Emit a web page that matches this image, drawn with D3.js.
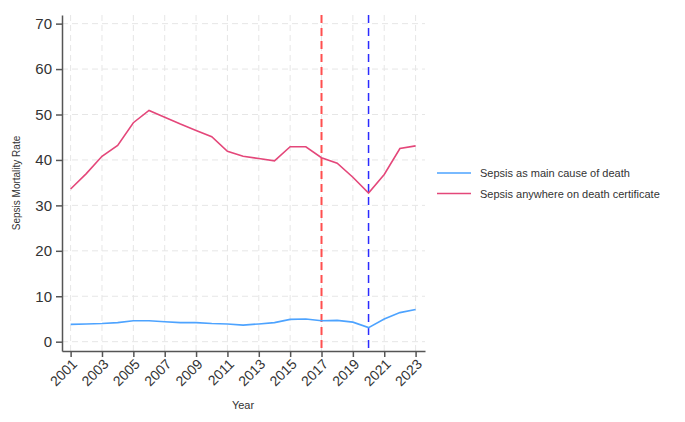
<!DOCTYPE html>
<html>
<head>
<meta charset="utf-8">
<style>
  body { margin: 0; background: #fff; }
  .axis path, .axis line { fill: none; stroke: #555; stroke-width: 1.5; }
  .axis text { font-family: "Liberation Sans", Arial, sans-serif; font-size: 15px; fill: #333; }
  .grid line { stroke: #e6e6e6; stroke-dasharray: 6,4; }
  .lbl { font-family: "Liberation Sans", Arial, sans-serif; fill: #333; }
</style>
</head>
<body>
<script src="https://d3js.org/d3.v7.min.js"></script>
<script>
var years = d3.range(2001, 2024);
var mainCause = [3.8, 3.9, 4.0, 4.2, 4.6, 4.6, 4.4, 4.2, 4.2, 4.0, 3.9, 3.65, 3.9, 4.2, 4.9, 5.0, 4.6, 4.7, 4.3, 3.1, 5.0, 6.4, 7.1];
var anywhere = [33.6, 37.0, 40.8, 43.2, 48.2, 50.9, 49.4, 47.9, 46.5, 45.1, 41.9, 40.8, 40.3, 39.8, 42.9, 42.9, 40.5, 39.3, 36.2, 32.7, 36.8, 42.5, 43.1];
var seriesNames = ["Sepsis as main cause of death", "Sepsis anywhere on death certificate"];
var seriesColors = ["#4da3ff", "#e4477a"];
var markerYears = [2017, 2020];
var markerColors = ["#ff4f4f", "#2b2bff"];
var yTicks = [0, 10, 20, 30, 40, 50, 60, 70];
var xTicks = d3.range(2001, 2024, 2);

var width = 685, height = 422;
var svg = d3.select("body").append("svg").attr("width", width).attr("height", height);

var pad = {left: 62, right: 425, top: 15, bottom: 351};
var x = d3.scaleLinear().domain([2000.45, 2023.6]).range([pad.left, pad.right]);
var y = d3.scaleLinear().domain([-2.05, 71.9]).range([pad.bottom, pad.top]);

// grid
var grid = svg.append("g").attr("class", "grid");
grid.selectAll(".h").data(yTicks).enter().append("line")
  .attr("x1", pad.left).attr("x2", pad.right)
  .attr("y1", function(d) { return y(d); }).attr("y2", function(d) { return y(d); });
grid.selectAll(".v").data(xTicks).enter().append("line")
  .attr("y1", pad.top).attr("y2", pad.bottom)
  .attr("x1", function(d) { return x(d); }).attr("x2", function(d) { return x(d); });

// axes
svg.append("g").attr("class", "axis")
  .attr("transform", "translate(" + pad.left + ",0)")
  .call(d3.axisLeft(y).tickValues(yTicks).tickSize(6).tickPadding(4).tickSizeOuter(0));

var xg = svg.append("g").attr("class", "axis")
  .attr("transform", "translate(0," + pad.bottom + ")")
  .call(d3.axisBottom(x).tickValues(xTicks).tickFormat(d3.format("d")).tickSize(6).tickSizeOuter(0));
xg.selectAll("text")
  .attr("text-anchor", "end")
  .attr("x", -5).attr("y", 10).attr("dy", "0.35em")
  .attr("transform", "rotate(-45)")
  .style("font-size", "14px");

// markers
svg.selectAll(".marker").data(markerYears).enter().append("line")
  .attr("x1", function(d) { return x(d); }).attr("x2", function(d) { return x(d); })
  .attr("y1", pad.top).attr("y2", pad.bottom)
  .attr("stroke", function(d, i) { return markerColors[i]; })
  .attr("stroke-width", function(d, i) { return i === 0 ? 2 : 1.5; })
  .attr("stroke-dasharray", "8,5");

// lines
var line = d3.line()
  .x(function(d, i) { return x(years[i]); })
  .y(function(d) { return y(d); });
[mainCause, anywhere].forEach(function(s, i) {
  svg.append("path").datum(s)
    .attr("fill", "none")
    .attr("stroke", seriesColors[i])
    .attr("stroke-width", 1.6)
    .attr("d", line);
});

// axis titles
svg.append("text").attr("class", "lbl")
  .attr("transform", "translate(20," + ((pad.top + pad.bottom) / 2) + ") rotate(-90)")
  .attr("text-anchor", "middle").style("font-size", "10px")
  .text("Sepsis Mortality Rate");
svg.append("text").attr("class", "lbl")
  .attr("x", 243).attr("y", 409)
  .attr("text-anchor", "middle").style("font-size", "11px")
  .text("Year");

// legend
var leg = svg.append("g").attr("transform", "translate(437,173)");
seriesNames.forEach(function(n, i) {
  var g = leg.append("g").attr("transform", "translate(0," + (i * 20.5) + ")");
  g.append("line").attr("x1", 0).attr("x2", 34).attr("y1", 0).attr("y2", 0)
    .attr("stroke", seriesColors[i]).attr("stroke-width", 1.6);
  g.append("text").attr("class", "lbl").attr("x", 43).attr("y", 4)
    .style("font-size", "11px").text(n);
});
</script>
</body>
</html>
